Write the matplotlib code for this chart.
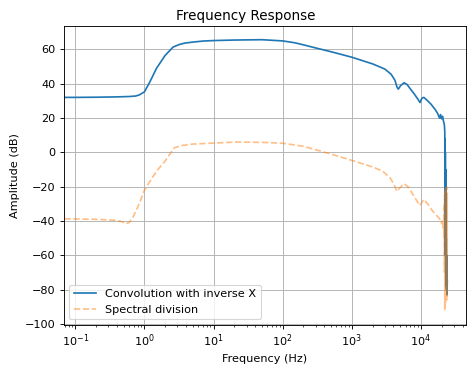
import matplotlib
matplotlib.use('Agg')
import matplotlib.pyplot as plt

# Convolution with inverse X
conv_freq = [0.07, 0.1, 0.2, 0.4, 0.6, 0.75, 0.85, 1.0, 1.2, 1.5, 2.0, 2.6, 3.2, 3.8, 5, 7, 10, 20, 50, 100,
             150, 200, 300, 500, 1000, 2000, 3000, 3700, 4200, 4500, 4700, 5100, 5700, 6300, 7000, 8000,
             9000, 9700, 10300, 11000, 12500, 14000, 16000, 17500, 18500, 19200, 19800, 20500, 21200, 21800,
             22100, 22200, 22300, 22400, 22500, 22600, 22700, 22800, 22900, 23000, 23200, 23400, 23600,
             23800, 24000]
conv_db = [32.0, 32.0, 32.1, 32.3, 32.5, 32.8, 33.5, 35.2, 41, 49, 56.5, 61.3, 62.8, 63.6, 64.2, 64.8, 65.1, 65.4, 65.6, 64.9,
           63.8, 62.6, 60.8, 58.6, 55.4, 51.5, 48.5, 45.5, 42, 38, 36.8, 39, 40.5, 39.5, 37, 34,
           31, 29, 31.5, 32, 30, 28, 25, 22.5, 20, 22, 19.5, 21, 18, 16,
           12, -20, 8, -45, 0, -60, -10, -70, -30, -78, -50, -80, -60, -83, -75]

# Spectral division
spec_freq = [0.07, 0.2, 0.4, 0.48, 0.53, 0.6, 0.68, 0.8, 0.9, 1.0, 1.2, 1.5, 2.0, 2.7, 3.5, 5, 10, 22, 50, 100,
             200, 300, 500, 1000, 2000, 2800, 3600, 4100, 4500, 5000, 5700, 6500, 7500, 8500, 9600,
             11000, 12500, 14000, 16000, 18000, 18700, 19500, 20200, 20700, 21200, 21500,
             21700, 21800, 21900, 22000, 22100, 22200, 22300, 22400, 22500, 22600, 22700, 22800, 22900,
             23000, 23100, 23200, 23300, 23400, 23500, 23600, 23700, 23800, 23900, 24000]
spec_db = [-38.7, -39.0, -39.6, -40.5, -41.5, -41.0, -38, -32, -27, -22, -17, -11, -5, 2.6, 4.0, 4.8, 5.4, 6.0, 5.8, 5.3,
           3.5, 1.5, -1, -4.7, -8.5, -11, -15, -19, -22.7, -20.5, -18.3, -20, -24, -27.5, -31,
           -27.5, -30, -33, -36, -38, -39, -41, -40, -44, -42, -46,
           -50, -30, -70, -25, -92, -40, -85, -22, -75, -35, -88, -20, -80, -30, -84, -22, -78, -45,
           -86, -25, -80, -50, -85, -20]

# smaller dpi so fonts and lines come out scaled like the reference
fig, ax = plt.subplots(figsize=(474 / 81, 373 / 81), dpi=81)
fig.subplots_adjust(left=0.134, right=0.983, bottom=0.129, top=0.929)

ax.plot(conv_freq, conv_db, label='Convolution with inverse X')
ax.plot(spec_freq, spec_db, '--', alpha=0.5, label='Spectral division')

ax.set_xscale('log')
ax.set_xlim(0.0677, 44700)
ax.set_ylim(-100.5, 73.3)
ax.set_yticks(range(-100, 61, 20))
# title sits a bit left of the axes centre in the reference
ax.set_title('Frequency Response', x=0.452)
ax.set_xlabel('Frequency (Hz)')
ax.set_ylabel('Amplitude (dB)')
ax.grid(True)
ax.legend(loc='lower left')

plt.savefig('out.png')
